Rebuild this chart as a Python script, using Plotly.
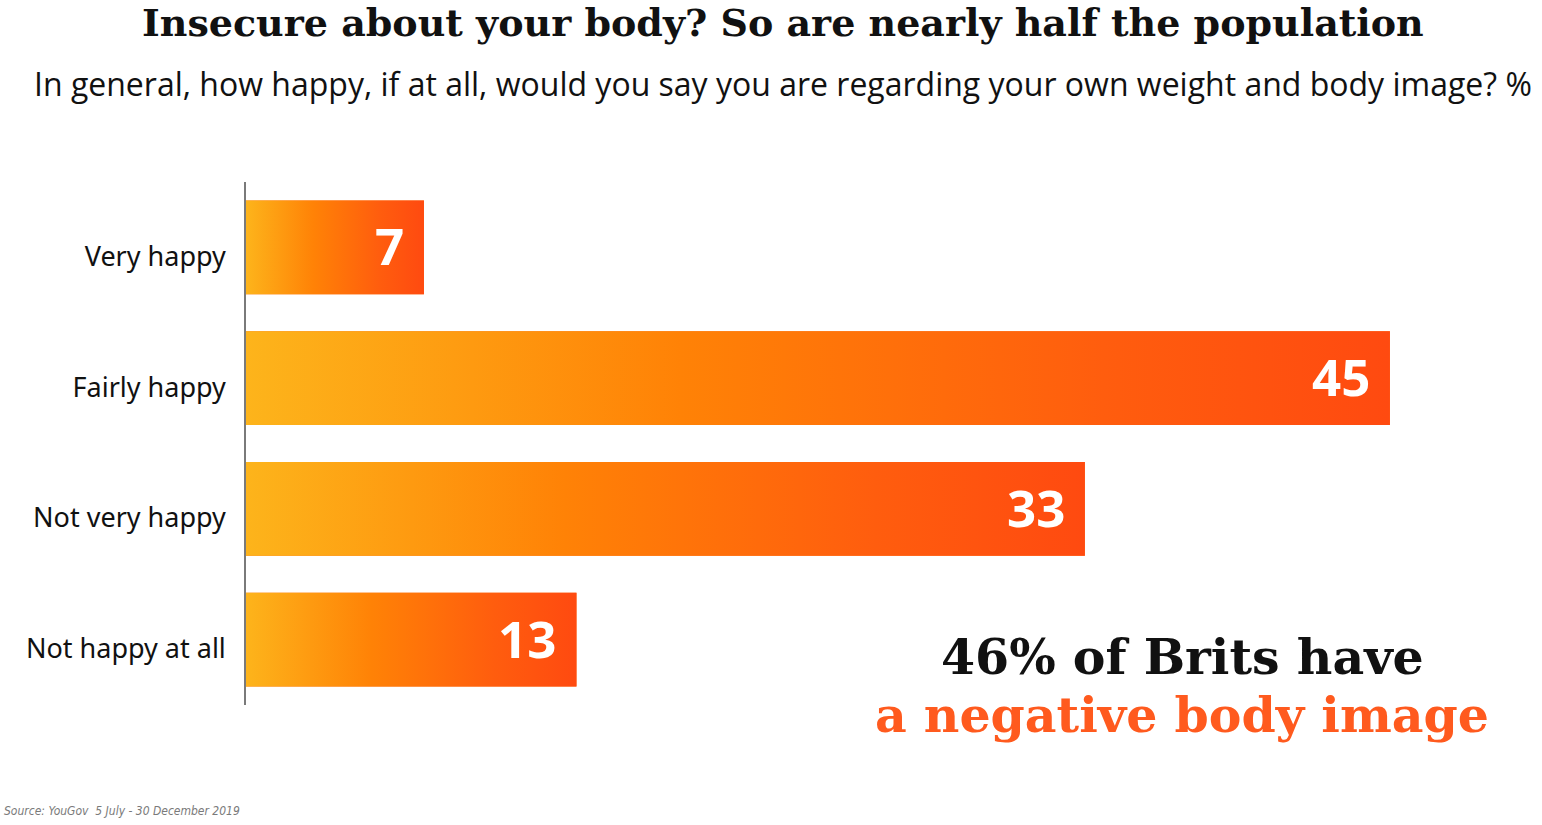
import plotly.graph_objects as go

categories = ["Very happy", "Fairly happy", "Not very happy", "Not happy at all"]
values = [7, 45, 33, 13]

title_text = "Insecure about your body? So are nearly half the population"
subtitle_text = "In general, how happy, if at all, would you say you are regarding your own weight and body image? %"
callout_line1 = "46% of Brits have"
callout_line2 = "a negative body image"
source_text = "Source: YouGov  5 July - 30 December 2019"

BAR_HALF = 0.359
gradient_scale = [[0, "#FDB41B"], [0.38, "#FF8206"], [0.75, "#FF5D0E"], [1, "#FF4A10"]]

PLOT_L, PLOT_T, PLOT_W, PLOT_H = 246, 182, 1271, 523.5
W, H = 1542, 825

def px(x):
    return (x - PLOT_L) / PLOT_W

def py(y):
    return 1 - (y - PLOT_T) / PLOT_H

fig = go.Figure()
ypos = list(range(len(categories)))

fig.add_trace(go.Bar(
    x=values, y=ypos, orientation="h", width=2 * BAR_HALF,
    marker=dict(color="#FF6A0A", line=dict(width=0)),
    hoverinfo="skip", showlegend=False,
))

for i, v in enumerate(values):
    fig.add_trace(go.Scatter(
        x=[0, v, v, 0, 0],
        y=[i - BAR_HALF, i - BAR_HALF, i + BAR_HALF, i + BAR_HALF, i - BAR_HALF],
        mode="lines", line=dict(width=0), fill="toself",
        fillgradient=dict(type="horizontal", colorscale=gradient_scale),
        hoverinfo="skip", showlegend=False,
    ))
    fig.add_annotation(
        x=v, y=i, text=str(v), showarrow=False, xanchor="right", yanchor="middle",
        xshift=-18, yshift=2, font=dict(family="Noto Sans", size=51, color="white", weight="bold"),
    )

fig.update_layout(
    width=W, height=H,
    margin=dict(l=PLOT_L, r=W - PLOT_L - PLOT_W, t=PLOT_T, b=H - PLOT_T - PLOT_H),
    paper_bgcolor="white", plot_bgcolor="white",
    showlegend=False,
    xaxis=dict(range=[0, 50], visible=False, fixedrange=True),
    yaxis=dict(
        range=[3.5, -0.5], tickvals=ypos, ticktext=categories,
        tickfont=dict(family="Noto Sans", size=27, color="#111"),
        showgrid=False, zeroline=False, showline=True, linecolor="#7a7a7a", linewidth=1.5,
        ticks="", ticklabelstandoff=13, ticklabelshift=-9, fixedrange=True,
    ),
)

fig.add_annotation(
    xref="paper", yref="paper", x=px(783), y=py(22),
    text="<b>" + title_text + "</b>", showarrow=False, xanchor="center", yanchor="middle",
    font=dict(family="DejaVu Serif", size=38, color="#111"),
)
fig.add_annotation(
    xref="paper", yref="paper", x=px(783), y=py(83),
    text=subtitle_text, showarrow=False, xanchor="center", yanchor="middle",
    font=dict(family="Open Sans", size=32, color="#111"),
)
fig.add_annotation(
    xref="paper", yref="paper", x=px(1182), y=py(657),
    text="<b>" + callout_line1 + "</b>", showarrow=False, xanchor="center", yanchor="middle",
    font=dict(family="DejaVu Serif", size=49, color="#111"),
)
fig.add_annotation(
    xref="paper", yref="paper", x=px(1182), y=py(716),
    text="<b>" + callout_line2 + "</b>", showarrow=False, xanchor="center", yanchor="middle",
    font=dict(family="DejaVu Serif", size=49, color="#FF5A1E"),
)
fig.add_annotation(
    xref="paper", yref="paper", x=px(2), y=py(812),
    text="<i>" + source_text + "</i>", showarrow=False, xanchor="left", yanchor="middle",
    font=dict(family="Liberation Sans Narrow, DejaVu Sans Condensed, Noto Sans", size=12, color="#7a7a7a"),
)

fig.write_html(
    "out.html",
    config={"displayModeBar": False},
    post_script="document.body.style.margin='0';document.body.style.overflow='hidden';",
)
